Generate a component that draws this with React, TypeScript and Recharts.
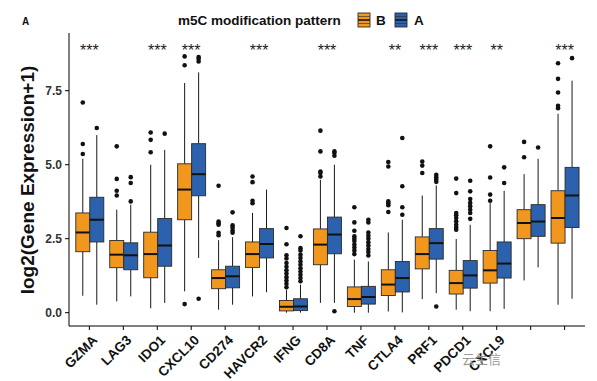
import React from "react";
import { ComposedChart, Bar, Scatter, XAxis, YAxis } from "recharts";

// ---------- data ----------
const GENES = ["GZMA", "LAG3", "IDO1", "CXCL10", "CD274", "HAVCR2", "IFNG", "CD8A", "TNF", "CTLA4", "PRF1", "PDCD1", "CXCL9", "TBX2", "GZMB"];
const TICK_LABELS = ["GZMA", "LAG3", "IDO1", "CXCL10", "CD274", "HAVCR2", "IFNG", "CD8A", "TNF", "CTLA4", "PRF1", "PDCD1", "CXCL9", "", ""];
const SERIES_NAMES = ["B", "A"];

// [lower whisker, Q1, median, Q3, upper whisker]
const B_STATS = [
  [0.57, 2.06, 2.71, 3.37, 5.2],
  [0.38, 1.52, 1.96, 2.44, 3.48],
  [0.15, 1.18, 1.98, 2.72, 5.0],
  [0.72, 3.14, 4.16, 5.03, 7.76],
  [0.1, 0.81, 1.17, 1.45, 2.45],
  [0.55, 1.53, 1.98, 2.39, 3.37],
  [0.0, 0.06, 0.2, 0.41, 0.78],
  [0.33, 1.62, 2.3, 2.83, 4.49],
  [0.0, 0.21, 0.46, 0.87, 1.79],
  [0.04, 0.58, 0.95, 1.45, 2.71],
  [0.46, 1.48, 1.98, 2.56, 3.96],
  [0.1, 0.63, 1.0, 1.43, 2.49],
  [0.05, 1.0, 1.43, 2.1, 3.7],
  [1.09, 2.5, 3.03, 3.48, 4.68],
  [0.27, 2.35, 3.2, 4.12, 6.72],
];
const A_STATS = [
  [0.27, 2.39, 3.14, 3.9, 6.0],
  [0.55, 1.45, 1.94, 2.36, 3.65],
  [0.33, 1.57, 2.27, 3.18, 5.5],
  [1.85, 3.95, 4.68, 5.71, 8.12],
  [0.27, 0.84, 1.23, 1.57, 2.55],
  [0.69, 1.85, 2.32, 2.84, 4.16],
  [0.0, 0.07, 0.21, 0.47, 0.95],
  [0.33, 1.99, 2.64, 3.23, 5.0],
  [0.0, 0.29, 0.53, 0.89, 1.73],
  [0.01, 0.7, 1.17, 1.73, 3.14],
  [0.66, 1.81, 2.35, 2.84, 4.3],
  [0.05, 0.83, 1.26, 1.76, 2.97],
  [0.13, 1.17, 1.66, 2.39, 4.12],
  [1.53, 2.58, 3.08, 3.65, 5.2],
  [0.47, 2.88, 3.96, 4.91, 7.84],
];
const B_OUTLIERS = [
  [7.1, 5.7, 5.36],
  [5.62, 4.52, 4.12, 3.96],
  [6.09, 5.84, 5.42],
  [8.66, 8.36, 0.29],
  [4.29, 3.08, 3.02, 2.97, 2.7, 2.62],
  [4.6, 4.41, 3.78, 3.7],
  [2.86, 2.31, 1.94, 1.83, 1.68, 1.55, 1.43, 1.32, 1.2, 1.09, 0.98, 0.86],
  [6.15, 5.45, 4.77, 4.72, 4.6],
  [3.56, 3.05, 2.77, 2.58, 2.5, 2.42, 2.3, 2.2, 2.1, 1.98],
  [5.09, 4.94, 3.76, 3.7, 3.63, 3.4],
  [5.11, 4.97, 4.72],
  [4.53, 4.04, 3.37, 3.29, 3.2, 3.09, 2.97, 2.88, 2.8],
  [5.62, 4.57, 3.99, 3.78],
  [5.77, 5.25],
  [8.43, 7.9, 7.44, 6.99, 6.91],
];
const A_OUTLIERS = [
  [6.24],
  [4.58, 4.38, 3.76],
  [6.05],
  [8.64, 8.58, 8.49, 0.47],
  [3.39, 2.95, 2.88, 2.78, 2.7],
  [],
  [2.58, 2.18, 2.1, 1.96, 1.85, 1.73, 1.62, 1.5, 1.39, 1.28, 1.17, 1.06],
  [5.45, 5.4, 5.3, 0.05],
  [3.14, 3.05, 2.71, 2.6, 2.5, 2.38, 2.27, 2.15, 2.05, 1.93],
  [5.9, 4.27, 3.56, 3.31],
  [4.66, 4.58, 4.5, 4.42, 0.21],
  [4.46, 4.1, 3.84, 3.71, 3.6, 3.48, 3.37, 3.17],
  [4.91, 4.38],
  [5.58],
  [8.6],
];
const SIGNIF = ["***", "", "***", "***", "", "***", "", "***", "", "**", "***", "***", "**", "", "***"];
const STAR_Y = 9.0;
const Y_TICKS = [0, 2.5, 5, 7.5];

const COLOR_B = "#F2971D";
const COLOR_A = "#2C62AD";
const FONT = "'Liberation Sans', Arial, sans-serif";

const rows = GENES.map((g, i) => ({
  gene: g,
  bBox: [B_STATS[i][1], B_STATS[i][3]],
  aBox: [A_STATS[i][1], A_STATS[i][3]],
  bStats: B_STATS[i],
  aStats: A_STATS[i],
  bOut: B_OUTLIERS[i],
  aOut: A_OUTLIERS[i],
  sig: SIGNIF[i],
  starY: STAR_Y,
  label: TICK_LABELS[i],
}));

const makeBox = (statKey: string, outKey: string, color: string) => (props: any) => {
  const { x, y, width, height, payload } = props;
  const [lo, q1, med, q3, hi] = payload[statKey];
  const outs: number[] = payload[outKey];
  const k = height / (q3 - q1);
  const toY = (v: number) => y + (q3 - v) * k;
  const cx = x + width / 2;
  return (
    <g>
      <line x1={cx} x2={cx} y1={toY(hi)} y2={toY(q3)} stroke="#1a1a1a" strokeWidth={1} />
      <line x1={cx} x2={cx} y1={toY(q1)} y2={toY(lo)} stroke="#1a1a1a" strokeWidth={1} />
      <rect x={x} y={y} width={width} height={height} fill={color} stroke="#2a2a2a" strokeWidth={0.9} />
      <line x1={x} x2={x + width} y1={toY(med)} y2={toY(med)} stroke="#111" strokeWidth={2} />
      {outs.map((v, j) => (
        <circle key={j} cx={cx} cy={toY(v)} r={2.3} fill="#111" />
      ))}
    </g>
  );
};

const StarShape = (props: any) => {
  const { cx, cy, payload } = props;
  if (!payload.sig) return <g />;
  return (
    <text x={cx} y={cy} dy={9.5} textAnchor="middle" fontSize={16} fontFamily={FONT} fill="#222">
      {payload.sig}
    </text>
  );
};

const XTick = (props: any) => {
  const { x, y, index } = props;
  const label = TICK_LABELS[index] ?? "";
  return (
    <text
      transform={`translate(${x + 2},${y + 2}) rotate(-45)`}
      textAnchor="end"
      dy="0.72em"
      fontSize={13.5}
      fontWeight={700}
      fontFamily={FONT}
      fill="#111"
    >
      {label}
    </text>
  );
};

const LegendKey = ({ x, color }: { x: number; color: string }) => (
  <g>
    <rect x={x} y={13} width={12} height={14} fill={color} stroke="#2a2a2a" strokeWidth={0.9} />
    <line x1={x} x2={x + 12} y1={20} y2={20} stroke="#111" strokeWidth={1.5} />
    <line x1={x} x2={x + 12} y1={16.5} y2={16.5} stroke="#2a2a2a" strokeWidth={0.6} />
    <line x1={x} x2={x + 12} y1={23.5} y2={23.5} stroke="#2a2a2a" strokeWidth={0.6} />
  </g>
);

export default function App() {
  return (
    <div style={{ position: "absolute", left: 0, top: 0, width: 597, height: 381, background: "#fff" }}>
      <ComposedChart
        width={597}
        height={381}
        data={rows}
        margin={{ top: 33, right: 12, bottom: 0, left: 0 }}
        barCategoryGap="10%"
        barGap={0}
      >
        <XAxis
          dataKey="gene"
          type="category"
          interval={0}
          height={55}
          padding={{ left: 3.4, right: 3.4 }}
          tickSize={4}
          tickMargin={2}
          axisLine={{ stroke: "#000", strokeWidth: 1 }}
          tickLine={{ stroke: "#000" }}
          tick={<XTick />}
        />
        <YAxis
          type="number"
          domain={[-0.45, 9.45]}
          allowDataOverflow
          ticks={Y_TICKS}
          width={69}
          tickSize={4}
          tickMargin={3}
          tickFormatter={(v: number) => v.toFixed(1)}
          axisLine={{ stroke: "#000", strokeWidth: 1 }}
          tickLine={{ stroke: "#000" }}
          tick={{ fontSize: 12, fontWeight: 700, fill: "#333", fontFamily: FONT }}
        />
        <Bar dataKey="bBox" name={SERIES_NAMES[0]} fill={COLOR_B} isAnimationActive={false} shape={makeBox("bStats", "bOut", COLOR_B)} />
        <Bar dataKey="aBox" name={SERIES_NAMES[1]} fill={COLOR_A} isAnimationActive={false} shape={makeBox("aStats", "aOut", COLOR_A)} />
        <Scatter dataKey="starY" isAnimationActive={false} shape={StarShape} />
      </ComposedChart>
      <svg width={597} height={381} style={{ position: "absolute", left: 0, top: 0, pointerEvents: "none" }}>
        <text x={22} y={24.5} fontSize={10} fontWeight={700} fontFamily={FONT} fill="#111">A</text>
        <text x={178} y={24.5} fontSize={13.5} fontWeight={700} fontFamily={FONT} fill="#111">m5C modification pattern</text>
        <LegendKey x={358} color={COLOR_B} />
        <text x={376} y={24.5} fontSize={13.5} fontWeight={700} fontFamily={FONT} fill="#111">{SERIES_NAMES[0]}</text>
        <LegendKey x={395} color={COLOR_A} />
        <text x={414} y={24.5} fontSize={13.5} fontWeight={700} fontFamily={FONT} fill="#111">{SERIES_NAMES[1]}</text>
        <text
          transform="translate(34,180) rotate(-90)"
          textAnchor="middle"
          fontSize={19}
          fontWeight={700}
          fontFamily={FONT}
          fill="#111"
        >
          log2(Gene Expression+1)
        </text>
        <text x={462} y={364} fontSize={13} fontFamily="'Noto Sans CJK SC', sans-serif" fill="#9a9a9a">云生信</text>
      </svg>
    </div>
  );
}
